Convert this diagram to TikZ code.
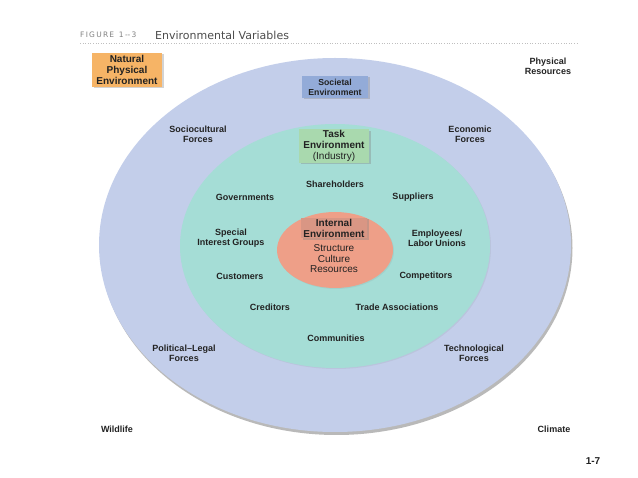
\documentclass[tikz,border=0pt]{standalone}
\usepackage{fontspec}
\setmainfont{Liberation Sans}
\newfontfamily\titlefont{DejaVu Sans}
\usetikzlibrary{shadows}
\definecolor{societalfill}{HTML}{C3CEEA}
\definecolor{taskfill}{HTML}{A5DDD6}
\definecolor{internalfill}{HTML}{EE9F88}
\definecolor{naturalbox}{HTML}{F6B466}
\definecolor{societalbox}{HTML}{93ABD8}
\definecolor{taskbox}{HTML}{A9D9AE}
\definecolor{internalbox}{HTML}{D99684}
\definecolor{labeltext}{HTML}{222222}

\begin{document}
\begin{tikzpicture}[
        x=1pt,
        y=-1pt,
        every node/.style={
            font=\fontsize{9}{10}\selectfont\bfseries,
            text=labeltext,
            align=center,
            inner sep=1pt
        },
        envbox/.style={
            font=\fontsize{10}{11}\selectfont\bfseries,
            inner sep=2pt,
            drop shadow={shadow xshift=1.5pt, shadow yshift=-1.5pt,
                opacity=0.35}
        },
        plainlabel/.style={
            font=\fontsize{10}{10.5}\selectfont
        }
    ]
        \useasboundingbox (0,0) rectangle (638,478);

        % Heading with the dotted rule under it
        \node[font=\titlefont\fontsize{7.5}{8}\selectfont,
            text=black!50, anchor=west, inner sep=0pt] (fignum)
            at (80,35) {F\,I\,G\,U\,R\,E\ \ 1\,--\,3};
        \node[font=\titlefont\fontsize{11}{12}\selectfont,
            text=black!70, anchor=west, inner sep=0pt] (figtitle)
            at (155,35) {Environmental Variables};
        \draw[black!25, dotted, line width=0.6pt] (80,43) -- (578,43);

        % The three nested environments
        \fill[societalfill,
            drop shadow={shadow xshift=1.5pt, shadow yshift=-3pt,
                opacity=0.55}]
            (335,245) ellipse (236 and 187);
        \fill[taskfill,
            drop shadow={shadow xshift=1pt, shadow yshift=-1pt,
                opacity=0.12}]
            (335,246) ellipse (155 and 122);
        \fill[internalfill,
            drop shadow={shadow xshift=1pt, shadow yshift=-1pt,
                opacity=0.12}]
            (335,250) ellipse (58 and 38);

        % Labelled boxes
        \node[envbox, fill=naturalbox, minimum width=70, minimum height=34]
            (natural) at (127,70) {Natural\\Physical\\Environment};
        \node[envbox, fill=societalbox, minimum width=66, minimum height=22,
            font=\fontsize{8.7}{10}\selectfont\bfseries]
            (societal) at (335,87) {Societal\\Environment};
        \node[envbox, fill=taskbox, minimum width=70, minimum height=32,
            inner sep=1pt]
            (task) at (334,146)
            {Task\\Environment\\{\mdseries(Industry)}};
        \node[envbox, fill=internalbox, minimum width=66, minimum height=20,
            inner sep=1pt]
            (internal) at (334,228) {Internal\\Environment};
        \node[plainlabel] (resources) at (334,259)
            {Structure\\Culture\\Resources};

        % General environment: forces
        \node (sociocult) at (198,134) {Sociocultural\\Forces};
        \node (economic) at (470,134) {Economic\\Forces};
        \node (political) at (184,353) {Political--Legal\\Forces};
        \node (technological) at (474,353) {Technological\\Forces};

        % Task environment: groups
        \node (shareholders) at (335,184) {Shareholders};
        \node (governments) at (245,197) {Governments};
        \node (suppliers) at (413,197) {Suppliers};
        \node (special) at (231,238) {Special\\Interest Groups};
        \node (employees) at (437,238) {Employees/\\Labor Unions};
        \node (customers) at (240,276) {Customers};
        \node (competitors) at (426,276) {Competitors};
        \node (creditors) at (270,307) {Creditors};
        \node (trade) at (397,307) {Trade Associations};
        \node (communities) at (336,338) {Communities};

        % Natural physical environment
        \node (physical) at (548,66) {Physical\\Resources};
        \node (wildlife) at (117,429) {Wildlife};
        \node (climate) at (554,429) {Climate};

        % Slide number
        \node[font=\fontsize{10}{12}\selectfont\bfseries] (slide)
            at (593,461) {1-7};
    \end{tikzpicture}
\end{document}
